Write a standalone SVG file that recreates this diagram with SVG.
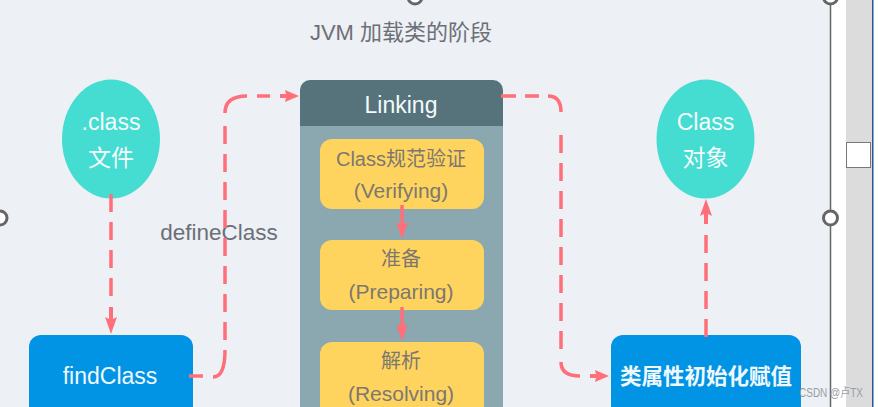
<svg xmlns="http://www.w3.org/2000/svg" width="878" height="407" viewBox="0 0 878 407">
<style>
text{font-family:"Liberation Sans","Noto Sans CJK SC",sans-serif;text-anchor:middle}
.w{fill:#f4fbfb;font-size:23px}
.b{fill:#f0f8fd;font-size:23px}
.y{fill:#fed45f}
.d{fill:#7d7770;font-size:21px}
.z{fill:#7d7770;font-size:20px}
.g{fill:#6c6f78;font-size:22px}
.l{fill:none;stroke:#ff6f79;stroke-width:3.500}
.c{stroke-dasharray:18 10}
.a{fill:#ff6f79}
.h{fill:#fff;stroke:#666;stroke-width:3}
</style>
<rect width="878" height="407" fill="#fff"/>
<rect width="830" height="407" fill="#edf0f4"/>
<rect x="846" width="26" height="407" fill="#dcdcdc"/>
<rect x="872" width="1.500" height="407" fill="#2a5699"/>
<rect x="846.500" y="142.500" width="24" height="25" fill="#fff" stroke="#777"/>
<line x1="830.500" y1="0" x2="830.500" y2="407" stroke="#666" stroke-width="1.500"/>
<g id="handles">
<circle class="h" cx="830.500" cy="-3" r="7"/>
<circle class="h" cx="830.500" cy="218" r="7"/>
<circle class="h" cx="0" cy="218" r="7"/>
<circle class="h" cx="415" cy="-3" r="7"/>
</g>
<text class="g" x="401" y="40">JVM 加载类的阶段</text>
<text class="g" x="219" y="240" style="font-size:22.500px">defineClass</text>
<g id="class-file">
<ellipse cx="111" cy="139" rx="49" ry="59.500" fill="#45dcd2"/>
<text class="w" x="111" y="130">.class</text>
<text class="w" x="111" y="166">文件</text>
</g>
<g id="class-object">
<ellipse cx="705.500" cy="139" rx="49" ry="59.500" fill="#45dcd2"/>
<text class="w" x="705.500" y="130">Class</text>
<text class="w" x="705.500" y="166">对象</text>
</g>
<g id="linking">
<path d="M300 126V90a10 10 0 0 1 10-10H493a10 10 0 0 1 10 10V126Z" fill="#56727b"/>
<rect x="300" y="126" width="203" height="281" fill="#8ba8b0"/>
<text class="w" x="401" y="113">Linking</text>
</g>
<g id="verifying">
<rect class="y" x="320" y="139" width="164" height="70" rx="12"/>
<text class="z" x="401" y="166">Class规范验证</text>
<text class="d" x="401" y="198">(Verifying)</text>
</g>
<g id="preparing">
<rect class="y" x="320" y="240" width="164" height="70" rx="12"/>
<text class="z" x="401" y="266">准备</text>
<text class="d" x="401" y="299">(Preparing)</text>
</g>
<g id="resolving">
<path class="y" d="M320 407V354a12 12 0 0 1 12-12H472a12 12 0 0 1 12 12V407Z"/>
<text class="z" x="401" y="368">解析</text>
<text class="d" x="401" y="401">(Resolving)</text>
</g>
<g id="findclass">
<path d="M29 407V347a12 12 0 0 1 12-12H181a12 12 0 0 1 12 12V407Z" fill="#0194e4"/>
<text class="b" x="110" y="384">findClass</text>
</g>
<g id="init">
<path d="M611 407V347a12 12 0 0 1 12-12H789a12 12 0 0 1 12 12V407Z" fill="#0194e4"/>
<text class="b" x="706" y="384" style="font-weight:bold;font-size:21.500px">类属性初始化赋值</text>
</g>
<g id="connectors">
<path class="l c" d="M111 194V297"/>
<path class="a" d="M111 334L105 317L109 319V307H113V319L117 317Z"/>
<path class="l" d="M189 376H203M213 377Q225 377 225 350"/>
<path class="l c" d="M225 340V123"/>
<path class="l" d="M225 113Q225 96 247 96M257 96H270"/>
<path class="a" d="M299 96L285 90L286 94H280V98H286L285 102Z"/>
<path class="l" d="M501 96H516M525 96H539M548 96Q561 96 561 112"/>
<path class="l c" d="M561 135V351"/>
<path class="l" d="M561 362Q561 376 580 376"/>
<path class="a" d="M609 376L595 370L596 374H590V378H596L595 382Z"/>
<path class="l c" d="M706 337V235"/>
<path class="a" d="M706 199L700 216L704 214V224H708V214L712 216Z"/>
<path class="l" d="M402 205V226"/>
<path class="a" d="M402 239L396 222L402 225L408 222Z"/>
<path class="l" d="M402 307V328"/>
<path class="a" d="M402 341L396 324L402 327L408 324Z"/>
</g>
<text x="831" y="397" textLength="64" lengthAdjust="spacingAndGlyphs" style="font-size:12px;fill:#9a9ea3">CSDN @卢TX</text>
</svg>
